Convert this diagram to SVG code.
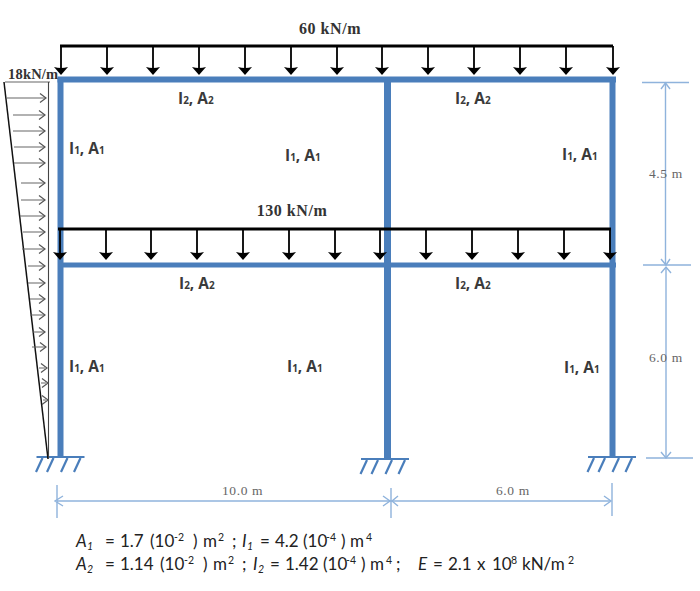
<svg xmlns="http://www.w3.org/2000/svg" width="700" height="591" viewBox="0 0 700 591">
<style>
.lab{font-family:"Open Sans","Noto Sans",sans-serif;font-size:15.5px;font-weight:700;fill:#3a3a3a}
.sub{font-size:10px}
.load{font-family:"Liberation Serif",serif;font-size:16px;font-weight:700;fill:#333;letter-spacing:.55px}
.dimt{font-family:"Liberation Serif",serif;font-size:13.5px;fill:#666;letter-spacing:.6px}
.eq{font-family:"Lato","Open Sans",sans-serif;font-size:17px;fill:#222}
.eq .v{font-style:italic}
.eq .s{font-size:10.5px}
.mem{stroke:#4a7ebb;fill:none}
.dim{stroke:#8fb3dc;stroke-width:1.4;fill:none}
.gnd{stroke:#4a7ebb;stroke-width:2.2;fill:none}
.bar{stroke:#000;stroke-width:3;fill:none}
.dn{stroke:#000;stroke-width:1.8;fill:none}
.tri{stroke:#111;stroke-width:1.5;fill:none}
.ar{stroke:#666;stroke-width:1.2;fill:none}
</style>
<defs>
<path id="dn" d="M-7 0Q0 2 7 0L0 8Z" fill="#000"/>
<path id="ah" d="M-6 -4.500L0 0L-6 4.500" stroke="#555" stroke-width="1.200" fill="none"/>
<path id="g" d="M-24 0H24M-18 1L-24.500 15M-7 1L-13.500 15M7 1L.5 15M20 1L13.500 15" class="gnd"/>
</defs>
<rect width="700" height="591" fill="#fff"/>

<g id="frame">
<path class="mem" stroke-width="6" d="M57.500 79.500H616"/>
<path class="mem" stroke-width="5" d="M58 265H616"/>
<path class="mem" stroke-width="6" d="M60.500 79V457M612.500 79V457"/>
<path class="mem" stroke-width="7" d="M387.500 79V458"/>
</g>

<g id="supports">
<use href="#g" x="60.500" y="457"/>
<use href="#g" x="385" y="459"/>
<use href="#g" x="612" y="457"/>
</g>

<g id="connectors">
<g id="load-60">
<path class="bar" d="M60 46H613"/>
<path class="dn" d="M61 46V68M107 46V68M153 46V68M199 46V68M245 46V68M291 46V68M337 46V68M382 46V68M428 46V68M474 46V68M520 46V68M566 46V68M613 46V68"/>
<use href="#dn" x="61" y="67"/><use href="#dn" x="107" y="67"/><use href="#dn" x="153" y="67"/><use href="#dn" x="199" y="67"/><use href="#dn" x="245" y="67"/><use href="#dn" x="291" y="67"/><use href="#dn" x="337" y="67"/><use href="#dn" x="382" y="67"/><use href="#dn" x="428" y="67"/><use href="#dn" x="474" y="67"/><use href="#dn" x="520" y="67"/><use href="#dn" x="566" y="67"/><use href="#dn" x="613" y="67"/>
</g>
<g id="load-130">
<path class="bar" d="M58 229H611"/>
<path class="dn" d="M60 229V253M106 229V253M151 229V253M197 229V253M243 229V253M289 229V253M335 229V253M380 229V253M426 229V253M472 229V253M518 229V253M564 229V253M610 229V253"/>
<use href="#dn" x="60" y="252"/><use href="#dn" x="106" y="252"/><use href="#dn" x="151" y="252"/><use href="#dn" x="197" y="252"/><use href="#dn" x="243" y="252"/><use href="#dn" x="289" y="252"/><use href="#dn" x="335" y="252"/><use href="#dn" x="380" y="252"/><use href="#dn" x="426" y="252"/><use href="#dn" x="472" y="252"/><use href="#dn" x="518" y="252"/><use href="#dn" x="564" y="252"/><use href="#dn" x="610" y="252"/>
</g>
<g id="load-18">
<path class="ar" d="M5 82H50"/>
<path class="tri" d="M4 82L48 459"/>
<path d="M48.500 82V459" stroke="#444" stroke-width="1.100" fill="none"/>
<path class="ar" d="M7 98H46M13 115H45M13 131H45M14 147H45M14 163H45M21 183H45M21 200H45M20 216H45M23 232H45M22 249H45M28 266H45M28 283H45M30 299H45M30 315H45M33 332H45M32 347H45M39 368H45M41 383H46M43 400H46"/>
<use href="#ah" x="46" y="98"/><use href="#ah" x="45" y="115"/><use href="#ah" x="45" y="131"/><use href="#ah" x="45" y="147"/><use href="#ah" x="45" y="163"/><use href="#ah" x="45" y="183"/><use href="#ah" x="45" y="200"/><use href="#ah" x="45" y="216"/><use href="#ah" x="45" y="232"/><use href="#ah" x="45" y="249"/><use href="#ah" x="45" y="266"/><use href="#ah" x="45" y="283"/><use href="#ah" x="45" y="299"/><use href="#ah" x="45" y="315"/><use href="#ah" x="45" y="332"/><use href="#ah" x="46" y="347"/><use href="#ah" x="47" y="368"/><use href="#ah" x="48" y="383"/><use href="#ah" x="48" y="400"/>
</g>
<g id="dimensions">
<path class="dim" d="M642 82.500H689M665.500 83V265M643 265H691M666 267V458M646 458H693"/>
<path class="dim" d="M661 89L665.500 83L670 89M661 259L666 265L670 259M661 273L666 267L671 273M661 452L666 458L671 452"/>
<path class="dim" d="M57 501H611"/>
<path class="dim" d="M57 485V518M391 488V518M612 483V516"/>
<path class="dim" d="M63 496L55 501L63 506M383 496L390 501L383 506M398 496L392 501L398 506M604 496L611 501L604 506"/>
</g>
</g>

<g id="labels">
<text class="load" x="330" y="34" text-anchor="middle">60 kN/m</text>
<text class="load" x="292" y="216" text-anchor="middle">130 kN/m</text>
<text class="load" x="8" y="79" style="font-size:14.5px;letter-spacing:.2px">18kN/m</text>
<text class="lab" x="178" y="104">I<tspan class="sub">2</tspan>, A<tspan class="sub">2</tspan></text>
<text class="lab" x="455" y="104">I<tspan class="sub">2</tspan>, A<tspan class="sub">2</tspan></text>
<text class="lab" x="69" y="154">I<tspan class="sub">1</tspan>, A<tspan class="sub">1</tspan></text>
<text class="lab" x="285" y="161">I<tspan class="sub">1</tspan>, A<tspan class="sub">1</tspan></text>
<text class="lab" x="562" y="160">I<tspan class="sub">1</tspan>, A<tspan class="sub">1</tspan></text>
<text class="lab" x="179" y="289">I<tspan class="sub">2</tspan>, A<tspan class="sub">2</tspan></text>
<text class="lab" x="455" y="289">I<tspan class="sub">2</tspan>, A<tspan class="sub">2</tspan></text>
<text class="lab" x="69" y="372">I<tspan class="sub">1</tspan>, A<tspan class="sub">1</tspan></text>
<text class="lab" x="287" y="372">I<tspan class="sub">1</tspan>, A<tspan class="sub">1</tspan></text>
<text class="lab" x="564" y="372.500">I<tspan class="sub">1</tspan>, A<tspan class="sub">1</tspan></text>
<text class="dimt" x="649" y="178">4.5 m</text>
<text class="dimt" x="649" y="362">6.0 m</text>
<text class="dimt" x="222" y="495">10.0 m</text>
<text class="dimt" x="496" y="495">6.0 m</text>
<text class="eq" y="547"><tspan class="v" x="76">A</tspan><tspan class="v s" x="87" dy="3">1</tspan><tspan x="105" dy="-3">=</tspan><tspan x="120">1.7</tspan><tspan x="150">(10</tspan><tspan class="s" x="174" dy="-6">-2</tspan><tspan x="193" dy="6">)</tspan><tspan x="203">m</tspan><tspan class="s" x="218" dy="-6">2</tspan><tspan x="232" dy="6">;</tspan><tspan class="v" x="242">I</tspan><tspan class="v s" x="247" dy="3">1</tspan><tspan x="260" dy="-3">=</tspan><tspan x="275">4.2</tspan><tspan x="303">(10</tspan><tspan class="s" x="326" dy="-6">-4</tspan><tspan x="341" dy="6">)</tspan><tspan x="350">m</tspan><tspan class="s" x="366" dy="-6">4</tspan></text>
<text class="eq" y="570"><tspan class="v" x="76">A</tspan><tspan class="v s" x="87" dy="3">2</tspan><tspan x="105" dy="-3">=</tspan><tspan x="120">1.14</tspan><tspan x="160">(10</tspan><tspan class="s" x="184" dy="-6">-2</tspan><tspan x="203" dy="6">)</tspan><tspan x="213">m</tspan><tspan class="s" x="228" dy="-6">2</tspan><tspan x="242" dy="6">;</tspan><tspan class="v" x="253">I</tspan><tspan class="v s" x="258" dy="3">2</tspan><tspan x="270" dy="-3">=</tspan><tspan x="285">1.42</tspan><tspan x="323">(10</tspan><tspan class="s" x="346" dy="-6">-4</tspan><tspan x="361" dy="6">)</tspan><tspan x="370">m</tspan><tspan class="s" x="386" dy="-6">4</tspan><tspan x="396" dy="6">;</tspan><tspan class="v" x="418">E</tspan><tspan x="433">=</tspan><tspan x="448">2.1</tspan><tspan x="477">x</tspan><tspan x="492">10</tspan><tspan class="s" x="511" dy="-6">8</tspan><tspan x="522" dy="6">kN/m</tspan><tspan class="s" x="568" dy="-6">2</tspan></text>
</g>
</svg>
